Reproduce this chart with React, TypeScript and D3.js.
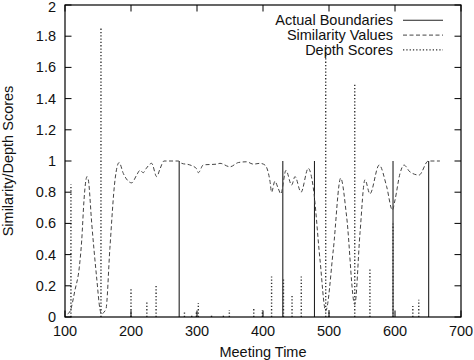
import React from "react";
import * as d3 from "d3";

const xTicks = [100, 200, 300, 400, 500, 600, 700];
const yTicks = [0, 0.2, 0.4, 0.6, 0.8, 1, 1.2, 1.4, 1.6, 1.8, 2];

const boundaries = [273, 430, 478, 597, 651];

const simX = [104, 108, 115, 121.7, 125.3, 128.8, 131.8, 133.3, 135.3, 140.5, 148, 153, 155, 162, 168, 175.8, 182, 188.4, 201, 208.6, 213.6, 218.6, 222.7, 231.3, 238.9, 244, 250, 271.7, 276.8, 289, 299.5, 302, 309.6, 330, 334.8, 350, 362.6, 375, 385.3, 395.5, 403, 410.6, 413, 418, 423, 427, 434.8, 443.4, 448.5, 457.6, 468.6, 476, 486.4, 495, 506.5, 517.7, 526.8, 539, 547, 554.5, 562, 576, 587.4, 596, 600, 607.6, 613.6, 622.7, 636.4, 650.5, 668];
const simY = [0.02, 0.04, 0.17, 0.32, 0.49, 0.75, 0.88, 0.9, 0.88, 0.6, 0.25, 0.05, 0.02, 0.05, 0.44, 0.88, 0.99, 0.92, 0.86, 0.91, 0.94, 0.925, 0.95, 0.985, 0.9, 0.95, 1.0, 1.0, 0.985, 0.975, 0.95, 0.925, 0.975, 0.98, 0.985, 0.963, 0.99, 0.995, 0.98, 0.985, 0.974, 0.87, 0.8, 0.87, 0.825, 0.79, 0.94, 0.846, 0.9, 0.8, 0.953, 0.835, 0.365, 0.04, 0.43, 0.89, 0.64, 0.08, 0.54, 0.88, 0.79, 0.974, 0.835, 0.686, 0.75, 0.92, 0.974, 0.93, 0.91, 1.0, 1.0];

const depthX = [109, 154.5, 200, 224, 238, 281, 292, 299, 302, 322, 340, 349, 386, 399, 413, 431, 444, 458, 495, 500, 539, 562, 597, 627, 636];
const depthY = [0.85, 1.86, 0.19, 0.1, 0.21, 0.03, 0.01, 0.04, 0.09, 0.01, 0.02, 0.045, 0.055, 0.045, 0.26, 0.25, 0.14, 0.26, 1.75, 0.045, 1.5, 0.31, 0.6, 0.07, 0.11];

const legendLabels = ["Actual Boundaries", "Similarity Values", "Depth Scores"];

const W = 474;
const H = 360;
const M = { left: 65, right: 461, top: 5, bottom: 317 };
const FONT = "'Liberation Sans', Arial, Helvetica, sans-serif";
const FS = 14.5;

export default function App() {
  const x = d3.scaleLinear().domain([100, 700]).range([M.left, M.right]);
  const y = d3.scaleLinear().domain([0, 2]).range([M.bottom, M.top]);
  const simData = simX.map((v, i) => [v, simY[i]] as [number, number]);
  const line = d3
    .line<[number, number]>()
    .x((d) => x(d[0]))
    .y((d) => y(d[1]))
    .curve(d3.curveMonotoneX);
  const tick = 6.5;
  const fmt = (v: number) => (Number.isInteger(v) ? String(v) : v.toFixed(1));

  const styles = [
    { stroke: "#222", dash: undefined as string | undefined, w: 1.1 },
    { stroke: "#444", dash: "4,2.5", w: 1 },
    { stroke: "#333", dash: "1.3,2", w: 1.4 },
  ];

  return (
    <svg
      width={W}
      height={H}
      style={{ position: "absolute", left: 0, top: 0, background: "#fff" }}
      fontFamily={FONT}
    >
      <rect x={0} y={0} width={W} height={H} fill="#fff" />
      {boundaries.map((b, i) => (
        <line key={"b" + i} x1={x(b)} x2={x(b)} y1={y(0)} y2={y(1)} stroke={styles[0].stroke} strokeWidth={styles[0].w} />
      ))}
      {depthX.map((d, i) => (
        <line
          key={"d" + i}
          x1={x(d)}
          x2={x(d)}
          y1={y(0)}
          y2={y(depthY[i])}
          stroke={styles[2].stroke}
          strokeWidth={styles[2].w}
          strokeDasharray={styles[2].dash}
        />
      ))}
      <path d={line(simData) || ""} fill="none" stroke={styles[1].stroke} strokeWidth={styles[1].w} strokeDasharray={styles[1].dash} />

      <rect x={M.left} y={M.top} width={M.right - M.left} height={M.bottom - M.top} fill="none" stroke="#000" strokeWidth={1.2} />

      {xTicks.map((t) => (
        <g key={"xt" + t}>
          <line x1={x(t)} x2={x(t)} y1={M.bottom} y2={M.bottom - tick} stroke="#000" />
          <line x1={x(t)} x2={x(t)} y1={M.top} y2={M.top + tick} stroke="#000" />
          <text x={x(t)} y={336} textAnchor="middle" fontSize={FS} fill="#111">
            {t}
          </text>
        </g>
      ))}
      {yTicks.map((t) => (
        <g key={"yt" + t}>
          <line x1={M.left} x2={M.left + tick} y1={y(t)} y2={y(t)} stroke="#000" />
          <line x1={M.right} x2={M.right - tick} y1={y(t)} y2={y(t)} stroke="#000" />
          <text x={56} y={Math.max(y(t) + 5, 11.5)} textAnchor="end" fontSize={FS} fill="#111">
            {fmt(t)}
          </text>
        </g>
      ))}

      <text x={(M.left + M.right) / 2} y={357} textAnchor="middle" fontSize={FS} fill="#111">
        Meeting Time
      </text>
      <text
        transform={`translate(13,${(M.top + M.bottom) / 2}) rotate(-90)`}
        textAnchor="middle"
        fontSize={FS}
        fill="#111"
      >
        Similarity/Depth Scores
      </text>

      {legendLabels.map((l, i) => {
        const by = 25 + i * 14.8;
        return (
          <g key={"lg" + i}>
            <text x={393} y={by} textAnchor="end" fontSize={FS} fill="#111">
              {l}
            </text>
            <line
              x1={403}
              x2={443}
              y1={by - 4.7}
              y2={by - 4.7}
              stroke={styles[i].stroke}
              strokeWidth={styles[i].w}
              strokeDasharray={styles[i].dash}
            />
          </g>
        );
      })}
    </svg>
  );
}
